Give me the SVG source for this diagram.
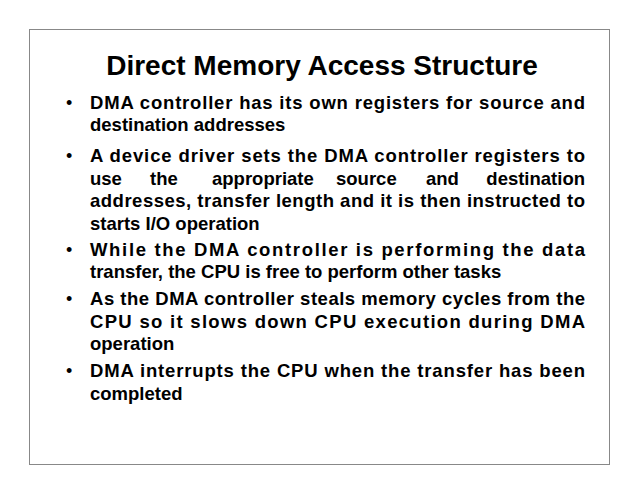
<svg xmlns="http://www.w3.org/2000/svg" width="638" height="493" viewBox="0 0 638 493">
<style>
.t{font-family:"Liberation Sans",Arial,sans-serif;font-weight:bold;font-size:18.5px;fill:#000}
.b{font-family:"Liberation Sans",Arial,sans-serif;font-size:18px;fill:#000}
</style>
<rect width="638" height="493" fill="#fff"/>
<rect x="29.5" y="29.5" width="580" height="435" fill="none" stroke="#888" stroke-width="1"/>
<text x="322" y="75" text-anchor="middle" style="font-family:'Liberation Sans',Arial,sans-serif;font-weight:bold;font-size:28px">Direct Memory Access Structure</text>
<g class="b">
<text x="66" y="109">•</text><text x="66" y="162">•</text><text x="66" y="256">•</text><text x="66" y="305">•</text><text x="66" y="377">•</text>
</g>
<g class="t">
<text x="90" y="109" textLength="495" lengthAdjust="spacing">DMA controller has its own registers for source and</text>
<text x="90" y="131">destination addresses</text>
<text x="90" y="162" textLength="495" lengthAdjust="spacing">A device driver sets the DMA controller registers to</text>
<text y="185"><tspan x="90">use</tspan><tspan x="150">the</tspan><tspan x="212">appropriate</tspan><tspan x="336">source</tspan><tspan x="426">and</tspan><tspan x="585" text-anchor="end">destination</tspan></text>
<text x="90" y="207" textLength="495" lengthAdjust="spacing">addresses, transfer length and it is then instructed to</text>
<text x="90" y="230">starts I/O operation</text>
<text x="90" y="256" textLength="495" lengthAdjust="spacing">While the DMA controller is performing the data</text>
<text x="90" y="278">transfer, the CPU is free to perform other tasks</text>
<text x="90" y="305" textLength="495" lengthAdjust="spacing">As the DMA controller steals memory cycles from the</text>
<text x="90" y="328" textLength="495" lengthAdjust="spacing">CPU so it slows down CPU execution during DMA</text>
<text x="90" y="350">operation</text>
<text x="90" y="377" textLength="495" lengthAdjust="spacing">DMA interrupts the CPU when the transfer has been</text>
<text x="90" y="400">completed</text>
</g>
</svg>
